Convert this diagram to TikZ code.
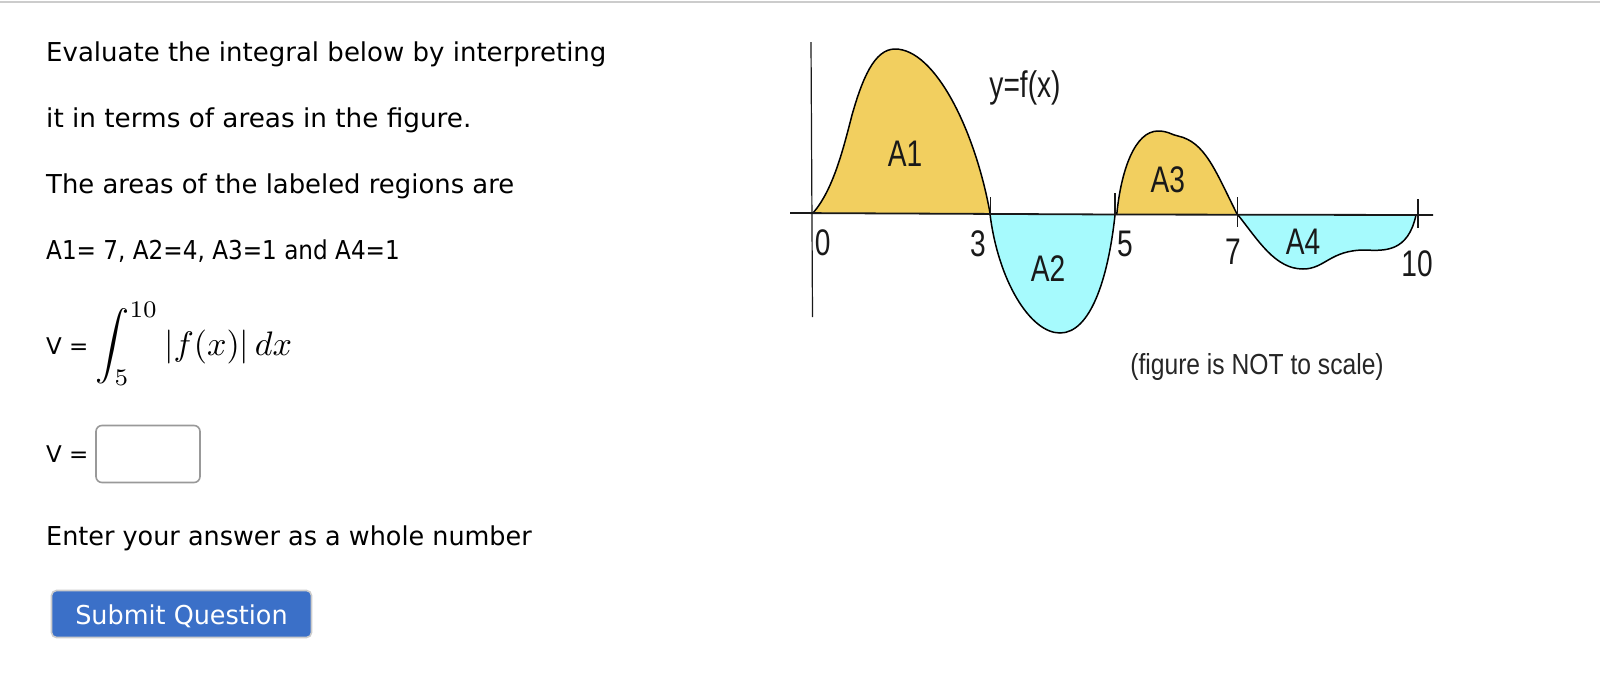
\documentclass[tikz,border=0pt]{standalone}
\usepackage{fontspec}
\setmainfont{DejaVu Sans}
\newfontfamily\figfont{Liberation Sans}
\definecolor{gold}{HTML}{F2CF5F}
\definecolor{aqua}{HTML}{A6FAFD}
\definecolor{btn}{HTML}{3B70C8}
\tikzset{
  body/.style={anchor=base west,inner sep=0pt,font=\fontsize{26}{30}\selectfont,text=black},
  small/.style={anchor=base west,inner sep=0pt,font=\fontsize{23}{25}\selectfont},
  fig/.style={inner sep=0pt,xscale=0.76,font=\figfont\fontsize{37}{40}\selectfont,text=black!90},
  figs/.style={inner sep=0pt,xscale=0.85,font=\figfont\fontsize{29}{32}\selectfont,text=black!85},
  curve/.style={line width=1.5pt,black},
  axis/.style={line width=1.2pt,black!90},
}
\begin{document}
\begin{tikzpicture}[x=1pt,y=-1pt]
\useasboundingbox (0,0) rectangle (1600,694);
\fill[white] (0,0) rectangle (1600,694);
\coordinate (tl) at (0,1.5); \coordinate (tr) at (1600,1.5);
\draw[line width=2pt,black!20] (tl) -- (tr);
% left text
\node[body] (l1) at (46,61) {Evaluate the integral below by interpreting};
\node[body,xscale=1.01] (l2) at (46,127) {it in terms of areas in the figure.};
\node[body,xscale=0.995] (l3) at (46,193) {The areas of the labeled regions are};
\node[body,xscale=0.89] (l4) at (46,259) {A1= 7, A2=4, A3=1 and A4=1};
\node[small] (v1) at (46,354) {V =};
\node[anchor=base west,inner sep=0pt,scale=3.4] (int) at (95,355) {$\displaystyle\int_5^{10}|f(x)|\,dx$};
\node[small] (v2) at (46,462) {V =};
\node[draw=black!40,line width=1.6pt,rounded corners=6pt,minimum width=104pt,minimum height=57pt,inner sep=0pt] (box) at (148,454) {};
\node[body,xscale=0.98] (l5) at (46,545) {Enter your answer as a whole number};
\node[draw=black!20,fill=btn,line width=1.6pt,rounded corners=5pt,minimum width=260pt,minimum height=47pt,inner sep=0pt] (btn) at (181.5,614) {};
\node[inner sep=0pt,text=white,xscale=0.98,font=\fontsize{26}{30}\selectfont] (btnt) at (181.5,616) {Submit Question};
% figure
\fill[gold] (813,213) .. controls (833,190) and (843,150) .. (852,115) .. controls (862,80) and (874,49) .. (895,49) .. controls (935,49) and (975,130) .. (990,213) -- cycle;
\fill[aqua] (990,214) .. controls (998,280) and (1030,333) .. (1060,333) .. controls (1090,333) and (1108,280) .. (1115,215) -- cycle;
\fill[gold] (1116.7,215) .. controls (1121,170) and (1135,131) .. (1158,131) .. controls (1168,131) and (1172,135) .. (1178,136) .. controls (1205,142) and (1215,170) .. (1237,214) -- cycle;
\fill[aqua] (1238,215) .. controls (1258,240) and (1275,269) .. (1303,269) .. controls (1325,269) and (1330,250) .. (1365,250) .. controls (1385,251) and (1408,252) .. (1416,215) -- cycle;
\draw[curve] (813,213) .. controls (833,190) and (843,150) .. (852,115) .. controls (862,80) and (874,49) .. (895,49) .. controls (935,49) and (975,130) .. (990,213);
\draw[curve] (990,214) .. controls (998,280) and (1030,333) .. (1060,333) .. controls (1090,333) and (1108,280) .. (1115,215);
\draw[curve] (1116.7,215) .. controls (1121,170) and (1135,131) .. (1158,131) .. controls (1168,131) and (1172,135) .. (1178,136) .. controls (1205,142) and (1215,170) .. (1237,214);
\draw[curve] (1238,215) .. controls (1258,240) and (1275,269) .. (1303,269) .. controls (1325,269) and (1330,250) .. (1365,250) .. controls (1385,251) and (1408,252) .. (1416,215);
% axes
\coordinate (ya) at (811,42); \coordinate (yb) at (812.5,317);
\coordinate (xa) at (790,213); \coordinate (xm) at (1116,214.5); \coordinate (xb) at (1433,215);
\draw[axis] (ya) -- (yb);
\draw[line width=1.8pt,black!90] (xa) -- (xm) -- (xb);
\coordinate (t3a) at (990.7,197); \coordinate (t3b) at (990.7,214);
\coordinate (t5a) at (1115,193); \coordinate (t5b) at (1115,215);
\coordinate (t7a) at (1237.3,197); \coordinate (t7b) at (1237.3,227);
\coordinate (t10a) at (1418,199); \coordinate (t10b) at (1418,228);
\draw[axis] (t3a) -- (t3b); \draw[axis] (t5a) -- (t5b); \draw[axis] (t7a) -- (t7b); \draw[axis] (t10a) -- (t10b);
% figure labels
\node[fig] (a1) at (905,154) {A1};
\node[fig] (a2) at (1048,269) {A2};
\node[fig] (a3) at (1167.7,180) {A3};
\node[fig] (a4) at (1303,242) {A4};
\node[fig] (yf) at (1025,88) {y=f(x)};
\node[fig] (n0) at (822.7,243) {0};
\node[fig] (n3) at (978,244) {3};
\node[fig] (n5) at (1125,244) {5};
\node[fig] (n7) at (1233,252) {7};
\node[fig] (n10) at (1417,264) {10};
\node[figs] (note) at (1257,367) {(figure is NOT to scale)};
\end{tikzpicture}
\end{document}
